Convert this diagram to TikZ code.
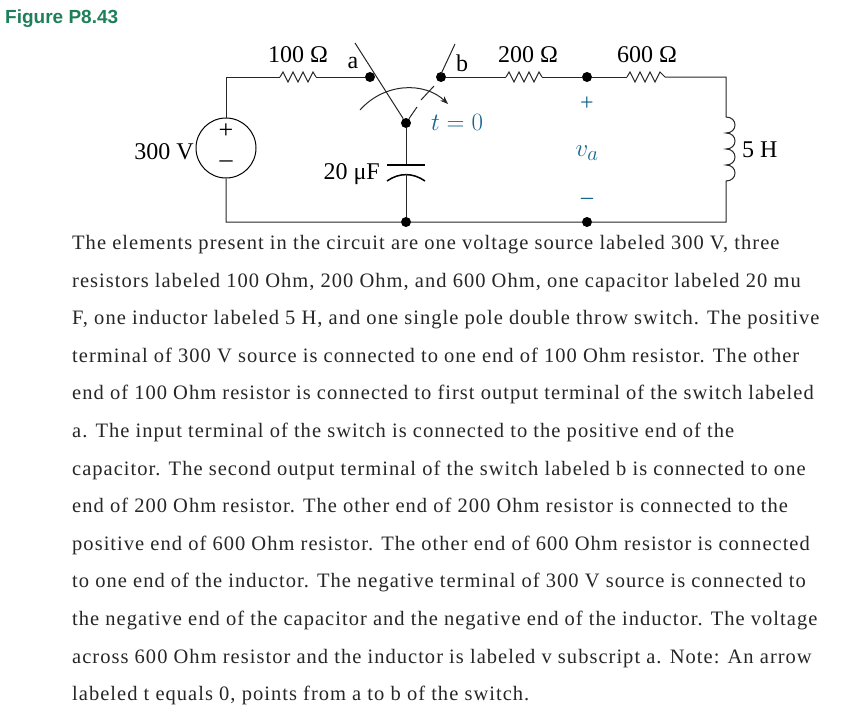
\documentclass[tikz,border=0pt]{standalone}
\usepackage{fontspec}
\setmainfont{Liberation Serif}
\newfontfamily\descfont[LetterSpace=5]{Liberation Serif}
\newfontfamily\titlefont{Liberation Sans}
\usetikzlibrary{arrows.meta}
\definecolor{titlegreen}{RGB}{30,128,90}
\definecolor{teal}{RGB}{20,100,140}
\tikzset{wire/.style={line width=1pt,black!85},
 dotn/.style={circle,fill=black,inner sep=0pt,minimum size=10pt},
 lbl/.style={font=\fontsize{24}{26}\selectfont,inner sep=0pt}}
\newcommand{\myres}[3]{\draw[wire] (#1,#3) -- ++(3,-5) -- ++(5,10) -- ++(5,-10) -- ++(5,10) -- ++(5,-10) -- ++(5,10) -- ++(5,-10) -- (#2,#3);}
\begin{document}
\begin{tikzpicture}[x=1pt,y=-1pt]
\useasboundingbox (0,0) rectangle (846,718);
\node[anchor=west,font=\titlefont\bfseries\fontsize{19}{20}\selectfont,text=titlegreen,inner sep=0pt] (title) at (5,19) {Figure P8.43};
% nodes
\node[dotn] (a) at (370,77) {};
\node[dotn] (b) at (441,77) {};
\node[dotn] (p) at (406,123) {};
\node[dotn] (m) at (587,77) {};
\node[dotn] (g1) at (406,222) {};
\node[dotn] (g2) at (587,222) {};
\node[circle,draw,line width=1pt,minimum size=60pt,inner sep=0pt] (src) at (226,148) {};
\coordinate (tl) at (226,77); \coordinate (bl) at (226,222);
\coordinate (tr) at (726,77); \coordinate (br) at (726,222);
% wires
\draw[wire] (src.north) -- (tl) -- (280,77);
\myres{280}{316}{77}
\draw[wire] (316,77) -- (a);
\draw[wire] (b) -- (506,77);
\myres{506}{542}{77}
\draw[wire] (542,77) -- (m) -- (627,77);
\myres{627}{665}{77}
\draw[wire] (665,77) -- (tr) -- (726,117)
  .. controls (738,117) and (738,133) .. (726,133)
  .. controls (738,133) and (738,149) .. (726,149)
  .. controls (738,149) and (738,165) .. (726,165)
  .. controls (738,165) and (738,181) .. (726,181)
  -- (br) -- (g2) -- (g1) -- (bl) -- (src.south);
\node[font=\fontsize{26}{26}\selectfont] at (226,131) {+};
\node[font=\fontsize{26}{26}\selectfont] at (226,164) {–};
% capacitor
\draw[wire] (p) -- (406,165);
\draw[line width=1.5pt] (387,165) -- (425,165);
\draw[line width=1.5pt] (387,181) to[bend left=35] (425,181);
\draw[wire] (406,174) -- (g1);
% switch
\draw[wire] (p) -- (355,43);
\draw[wire] (p) -- (417,107);
\draw[wire] (421,100) -- (434,86);
\draw[wire] (455,44) -- (441,74);
\draw[wire,-{Stealth[length=8pt]}] (360,110) .. controls (385,82) and (425,82) .. (448,104);
% labels
\node[lbl] at (298,55) {100 Ω};
\node[lbl] at (353,63) {a};
\node[lbl] at (462,63) {b};
\node[lbl] at (528,55) {200 Ω};
\node[lbl] at (647,55) {600 Ω};
\node[lbl,anchor=east] at (194,152) {300 V};
\node[lbl,anchor=east] at (380,174) {20 μF};
\node[lbl,anchor=west] at (742,150) {5 H};
\node[lbl,text=teal] at (457,122) {$t=0$};
\node[lbl,text=teal] at (587,104) {+};
\node[lbl,text=teal,font=\fontsize{28}{28}\selectfont] at (587,153) {$v_a$};
\node[lbl,text=teal] at (587,201) {–};
\node[anchor=north west,inner sep=0pt,align=left,font=\descfont\fontsize{20.5}{37.6}\selectfont,text=black!85] (desc) at (72,235) {The elements present in the circuit are one voltage source labeled 300 V, three\\
resistors labeled 100 Ohm, 200 Ohm, and 600 Ohm, one capacitor labeled 20 mu\\
F, one inductor labeled 5 H, and one single pole double throw switch. The positive\\
terminal of 300 V source is connected to one end of 100 Ohm resistor. The other\\
end of 100 Ohm resistor is connected to first output terminal of the switch labeled\\
a. The input terminal of the switch is connected to the positive end of the\\
capacitor. The second output terminal of the switch labeled b is connected to one\\
end of 200 Ohm resistor. The other end of 200 Ohm resistor is connected to the\\
positive end of 600 Ohm resistor. The other end of 600 Ohm resistor is connected\\
to one end of the inductor. The negative terminal of 300 V source is connected to\\
the negative end of the capacitor and the negative end of the inductor. The voltage\\
across 600 Ohm resistor and the inductor is labeled v subscript a. Note: An arrow\\
labeled t equals 0, points from a to b of the switch.};
\end{tikzpicture}
\end{document}
